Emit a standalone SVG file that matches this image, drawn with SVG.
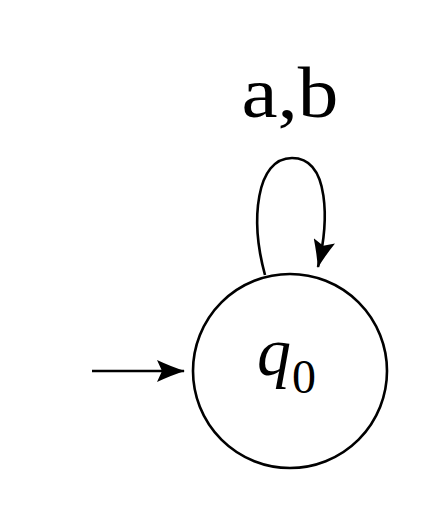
<svg xmlns="http://www.w3.org/2000/svg" width="425" height="507" viewBox="0 0 425 507">
<style>
.edge{fill:none;stroke:#000;stroke-width:2.6}
.node{fill:#fff;stroke:#000;stroke-width:2.6}
.lbl{font-family:"Liberation Serif","DejaVu Serif",serif;fill:#000}
</style>
<defs>
<marker id="ah" viewBox="0 0 28 22" refX="27" refY="11" markerWidth="28" markerHeight="22" markerUnits="userSpaceOnUse" orient="auto">
<path d="M28,11 Q15,7 0,0 L5,11 L0,22 Q15,15 28,11 Z" fill="#000"/>
</marker>
</defs>
<rect width="425" height="507" fill="#fff"/>
<g id="connectors">
<path class="edge" d="M92,371 L184,371" marker-end="url(#ah)"/>
<path class="edge" d="M265,275 C250,220 256,158 292,158 C330,158 329,222 318,267" marker-end="url(#ah)"/>
<text class="lbl" x="290" y="117" font-size="72" text-anchor="middle" textLength="97" lengthAdjust="spacingAndGlyphs">a,b</text>
</g>
<g id="q0">
<circle class="node" cx="290" cy="371" r="97"/>
<text class="lbl" x="257" y="375" font-size="68" font-style="italic">q</text>
<text class="lbl" x="292" y="393" font-size="48">0</text>
</g>
</svg>
